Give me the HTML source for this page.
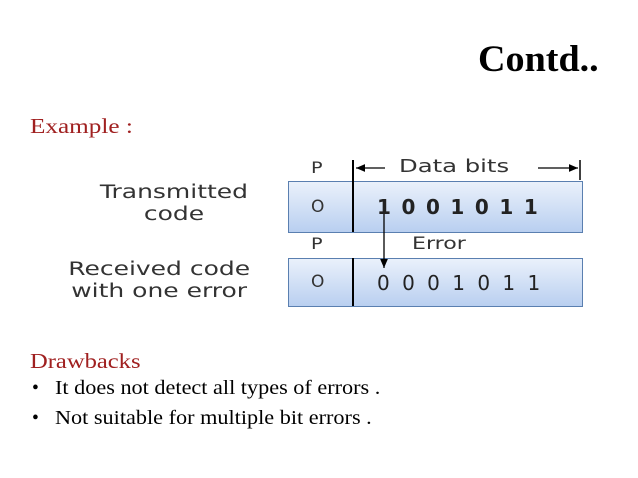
<!DOCTYPE html>
<html><head><style>
body{margin:0;width:638px;height:478px;background:#fff;position:relative;overflow:hidden;font-family:"Liberation Serif",serif}
.a{position:absolute;white-space:nowrap;transform-origin:0 0}
.s{font-family:"DejaVu Sans","Liberation Sans",sans-serif;color:#333}
.box{position:absolute;left:288px;width:293px;border:1px solid #5a7fb0;background:linear-gradient(#eaf1fb,#b9cff0)}
</style></head><body>
<div class="a" style="left:478px;top:38px;font-size:37px;font-weight:bold;color:#000;transform:scaleX(1.03)">Contd..</div>
<div class="a" style="left:30px;top:114px;font-size:21px;color:#a02020;transform:scaleX(1.2)">Example :</div>

<div class="a s" style="left:95px;top:182px;font-size:18.5px;text-align:center;width:117px;line-height:22px;transform:scaleX(1.35)">Transmitted<br>code</div>
<div class="a s" style="left:64px;top:259px;font-size:18.5px;text-align:center;width:141px;line-height:22px;transform:scaleX(1.35)">Received code<br>with one error</div>

<div class="a s" style="left:311px;top:158px;font-size:16px;transform:scaleX(1.2)">P</div>
<div class="a s" style="left:399px;top:156px;font-size:18px;transform:scaleX(1.35)">Data bits</div>
<div class="a s" style="left:311px;top:234px;font-size:16px;transform:scaleX(1.2)">P</div>
<div class="a s" style="left:412px;top:234px;font-size:17px;transform:scaleX(1.3)">Error</div>

<div class="box" style="top:181px;height:50px"></div>
<div class="box" style="top:258px;height:47px"></div>
<div class="a s" style="left:311px;top:197px;font-size:17px">O</div>
<div class="a s" style="left:377px;top:195px;font-size:20px;letter-spacing:1.8px;font-weight:bold;color:#222">1 0 0 1 0 1 1</div>
<div class="a s" style="left:311px;top:272px;font-size:17px">O</div>
<div class="a s" style="left:377px;top:271px;font-size:20px;letter-spacing:3px;color:#222">0 0 0 1 0 1 1</div>

<svg class="a" style="left:0;top:0" width="638" height="478">
<defs><marker id="m" markerWidth="8" markerHeight="8" refX="7" refY="4" orient="auto"><path d="M0,1 L7,4 L0,7z" fill="#000"/></marker></defs>
<line x1="353" y1="160" x2="353" y2="232" stroke="#000" stroke-width="2"/>
<line x1="353" y1="258" x2="353" y2="306" stroke="#000" stroke-width="2"/>
<line x1="580" y1="160" x2="580" y2="180" stroke="#000" stroke-width="1.5"/>
<line x1="385" y1="168" x2="356" y2="168" stroke="#000" stroke-width="1.3" marker-end="url(#m)"/>
<line x1="538" y1="168" x2="578" y2="168" stroke="#000" stroke-width="1.3" marker-end="url(#m)"/>
<line x1="384" y1="214" x2="384" y2="268" stroke="#000" stroke-width="1.3" marker-end="url(#m)"/>
</svg>

<div class="a" style="left:30px;top:349px;font-size:21px;color:#a02020;transform:scaleX(1.17)">Drawbacks</div>
<div class="a" style="left:32px;top:378px;font-size:19.5px;color:#000">•</div>
<div class="a" style="left:55px;top:378px;font-size:19.5px;color:#000;transform:scaleX(1.14)">It does not detect all types of errors .</div>
<div class="a" style="left:32px;top:408px;font-size:19.5px;color:#000">•</div>
<div class="a" style="left:55px;top:408px;font-size:19.5px;color:#000;transform:scaleX(1.14)">Not suitable for multiple bit errors .</div>
</body></html>
